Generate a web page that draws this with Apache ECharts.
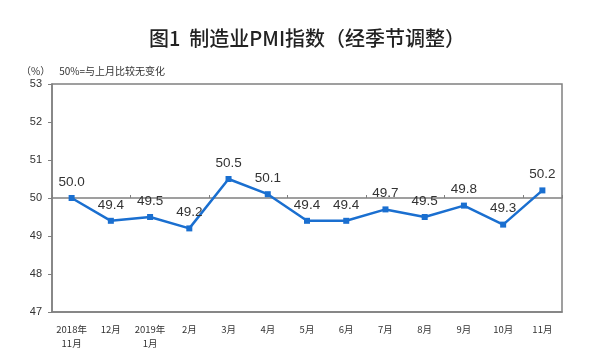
<!DOCTYPE html>
<html><head><meta charset="utf-8">
<script src="https://cdn.jsdelivr.net/npm/echarts@6/dist/echarts.min.js"></script>
<style>html,body{margin:0;padding:0;background:#fff}#c{width:613px;height:355px}</style>
</head><body><div id="c"></div>
<script>
var categories = ['2018年\n11月','12月','2019年\n1月','2月','3月','4月','5月','6月','7月','8月','9月','10月','11月'];
var pmiValues = [50.0, 49.4, 49.5, 49.2, 50.5, 50.1, 49.4, 49.4, 49.7, 49.5, 49.8, 49.3, 50.2];
var yMin = 47, yMax = 53, yInterval = 1;
var baseline = 50;

var chart = echarts.init(document.getElementById('c'), null, {renderer:'canvas'});
var cjk = '"Noto Sans CJK SC", sans-serif';
chart.setOption({
  animation: false,
  backgroundColor: '#fff',
  title: [
    {text: '图1  制造业PMI指数（经季节调整）', left: 302, top: 23, textAlign: 'center',
     textStyle: {fontFamily: cjk, fontSize: 20, fontWeight: 500, color: '#222'}},
    {text: '（%）    50%=与上月比较无变化', left: 16, top: 61,
     textStyle: {fontFamily: cjk, fontSize: 10, fontWeight: 'normal', color: '#333'}}
  ],
  grid: {left: 52, right: 51, top: 84, bottom: 43, show: true, borderColor: '#808080', borderWidth: 1.5},
  xAxis: [
    {type: 'category', data: categories, boundaryGap: true, position: 'bottom',
     axisLine: {show: true, lineStyle: {color: '#808080', width: 1.5}},
     axisTick: {show: false},
     axisLabel: {fontFamily: cjk, fontSize: 9.5, color: '#333', margin: 10, lineHeight: 14, interval: 0}},
    {type: 'category', data: categories, boundaryGap: true, position: 'top', offset: -(228 * (yMax - baseline) / (yMax - yMin)),
     axisLine: {show: true, lineStyle: {color: '#808080', width: 1.5}},
     axisTick: {show: true, length: 3, lineStyle: {color: '#808080'}},
     axisLabel: {show: false}}
  ],
  yAxis: {type: 'value', min: yMin, max: yMax, interval: yInterval,
    axisLine: {show: true, lineStyle: {color: '#808080', width: 1.5}},
    axisTick: {show: true, length: 4, lineStyle: {color: '#808080'}},
    splitLine: {show: false},
    axisLabel: {fontFamily: '"Liberation Sans", Arial, sans-serif', fontSize: 11, color: '#333', margin: 10}},
  series: [{
    type: 'line', data: pmiValues, xAxisIndex: 0,
    symbol: 'rect', symbolSize: 6,
    lineStyle: {color: '#1a6fd0', width: 2.5},
    itemStyle: {color: '#1a6fd0'},
    label: {show: true, position: 'top', distance: 6,
      formatter: function(p){ return p.value.toFixed(1); },
      fontFamily: '"Liberation Sans", Arial, sans-serif', fontSize: 13.5, color: '#333'},
    z: 5
  }]
});
</script></body></html>
